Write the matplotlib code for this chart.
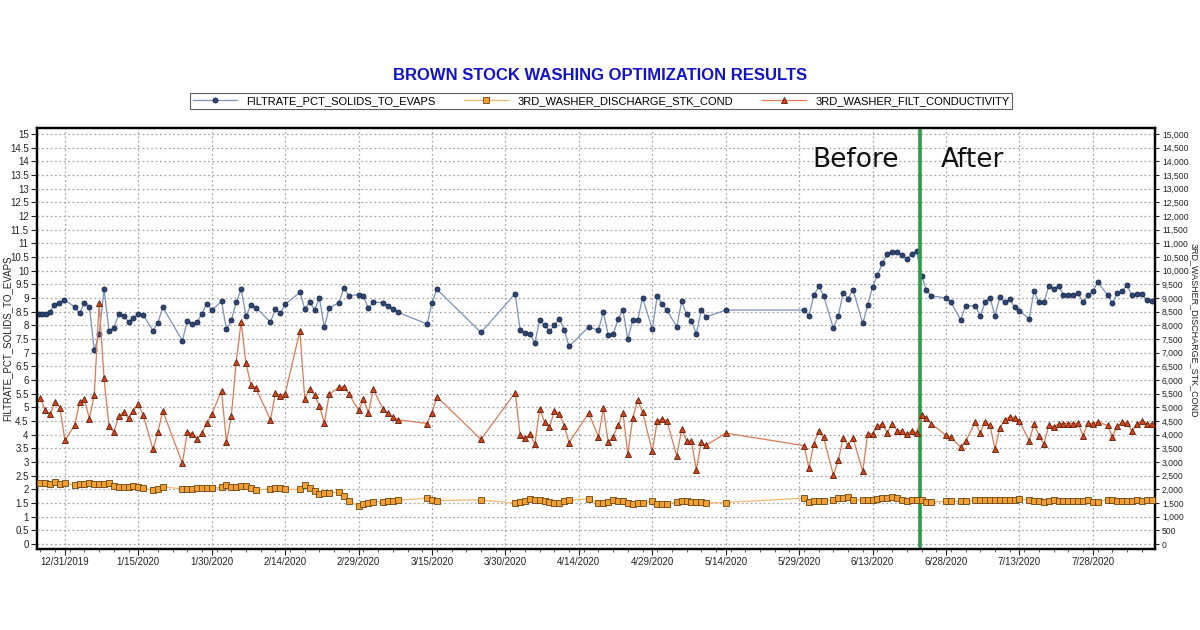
import datetime as dt
import matplotlib
matplotlib.use("Agg")
import matplotlib.pyplot as plt
import matplotlib.dates as mdates
from matplotlib.lines import Line2D
from matplotlib.ticker import MultipleLocator, FuncFormatter

plt.rcParams['font.family'] = ['Liberation Sans', 'DejaVu Sans']

BASE_DATE = dt.datetime(2019, 12, 31)

# sample days, counted from 12/31/2019
head_days = [-5, -4, -3, -2, -1, 0]
filtrate_head_days = [-5.3, -4.6, -3.9, -3.1, -2.2, -1.2, -0.1]
days = [
    2, 3, 4, 5, 6, 7, 8, 9, 10, 11, 12, 13, 14, 15, 16,
    18, 19, 20,
    24, 25, 26, 27, 28, 29, 30,
    32, 33, 34, 35, 36, 37, 38, 39,
    42, 43, 44, 45,
    48, 49, 50, 51, 52, 53, 54,
    56, 57, 58,
    60, 61, 62, 63,
    65, 66, 67, 68,
    74, 75, 76,
    85,
    92, 93, 94, 95, 96, 97, 98, 99, 100, 101, 102, 103,
    107,
    109, 110, 111, 112, 113, 114, 115, 116, 117, 118,
    120, 121, 122, 123,
    125, 126, 127, 128, 129, 130, 131,
    135,
    151, 152, 153, 154, 155,
    157, 158, 159, 160, 161,
    163, 164, 165, 166, 167, 168, 169, 170, 171, 172, 173, 174, 175, 176, 177,
    180, 181,
    183, 184,
    186, 187, 188, 189, 190, 191, 192, 193, 194, 195,
    197, 198, 199, 200, 201, 202, 203, 204, 205, 206, 207, 208, 209, 210, 211,
    213, 214, 215, 216, 217, 218, 219, 220, 221, 222,
]

# left axis (%)
filtrate_pct = [
    8.40, 8.40, 8.43, 8.48, 8.74, 8.83, 8.94,
    8.68, 8.44, 8.83, 8.68, 7.10, 7.67, 9.32, 7.81, 7.92, 8.40, 8.34, 8.14, 8.27, 8.43, 8.37,
    7.81, 8.10, 8.66,
    7.44, 8.16, 8.04, 8.11, 8.43, 8.79, 8.55,
    8.88, 7.85, 8.18, 8.84, 9.32, 8.35, 8.73, 8.65,
    8.12, 8.60, 8.44, 8.77,
    9.21, 8.61, 8.85, 8.57, 8.99, 7.93, 8.64,
    8.83, 9.37, 9.09,
    9.12, 9.07, 8.62, 8.85,
    8.83, 8.71, 8.59, 8.48,
    8.05, 8.83, 9.32,
    7.74,
    9.16, 7.82, 7.71, 7.68, 7.35, 8.20, 8.01, 7.79, 8.01, 8.24, 7.84, 7.23,
    7.94,
    7.82, 8.50, 7.65, 7.67, 8.22, 8.57, 7.49, 8.18, 8.18, 9.01,
    7.87, 9.06, 8.78, 8.55,
    7.95, 8.88, 8.40, 8.15, 7.70, 8.57, 8.31,
    8.56,
    8.56, 8.35, 9.10, 9.43, 9.09,
    7.89, 8.35, 9.20, 8.98, 9.31,
    8.07, 8.73, 9.42, 9.83, 10.28, 10.61, 10.70, 10.67, 10.56, 10.44, 10.60, 10.72, 9.82, 9.28, 9.09,
    8.99, 8.85,
    8.20, 8.71,
    8.72, 8.33, 8.85, 9.01, 8.35, 9.03, 8.84, 8.95, 8.67, 8.51,
    8.25, 9.27, 8.84, 8.84, 9.43, 9.34, 9.44, 9.12, 9.12, 9.12, 9.17, 8.85, 9.10, 9.24, 9.59,
    9.10, 8.81, 9.18, 9.27, 9.46, 9.10, 9.14, 9.15, 8.92, 8.88,
]

# right axis units
discharge_cond = [
    2220, 2220, 2180, 2260, 2210, 2230,
    2150, 2180, 2180, 2230, 2210, 2200, 2200, 2220, 2130, 2070, 2070, 2090, 2120, 2070, 2060,
    1960, 2020, 2090,
    2020, 2010, 2010, 2040, 2050, 2050, 2050,
    2070, 2150, 2070, 2090, 2130, 2120, 2040, 1980,
    2020, 2050, 2040, 2000,
    2000, 2150, 2040, 1930, 1850, 1880, 1880,
    1900, 1760, 1560,
    1410, 1450, 1500, 1550,
    1550, 1570, 1560, 1600,
    1680, 1600, 1590,
    1620,
    1490, 1550, 1590, 1660, 1630, 1610, 1560, 1540, 1520, 1520, 1560, 1600,
    1650,
    1510, 1500, 1540, 1620, 1570, 1590, 1510, 1450, 1500, 1520,
    1560, 1480, 1450, 1480,
    1540, 1570, 1590, 1550, 1540, 1540, 1500,
    1520,
    1680, 1550, 1570, 1570, 1570,
    1630, 1680, 1680, 1720, 1610,
    1610, 1610, 1630, 1640, 1680, 1700, 1720, 1700, 1630, 1560, 1610, 1630, 1610, 1540, 1540,
    1560, 1560,
    1560, 1560,
    1610, 1630, 1610, 1610, 1610, 1610, 1630, 1610, 1630, 1660,
    1610, 1590, 1590, 1540, 1590, 1610, 1560, 1560, 1560, 1560, 1560, 1560, 1610, 1540, 1540,
    1630, 1610, 1560, 1560, 1590, 1590, 1610, 1590, 1630, 1630,
]

filt_conductivity = [
    5350, 4890, 4740, 5210, 4980, 3790,
    4350, 5180, 5290, 4590, 5460, 8810, 6060, 4330, 4090, 4680, 4820, 4600, 4880, 5110, 4720,
    3460, 4100, 4870,
    2950, 4090, 4040, 3850, 4050, 4440, 4740,
    5610, 3730, 4680, 6670, 8120, 6610, 5830, 5710,
    4540, 5520, 5430, 5500,
    7790, 5320, 5660, 5450, 5060, 4430, 5480,
    5740, 5750, 5500,
    4890, 5290, 4810, 5660,
    4940, 4780, 4650, 4550,
    4410, 4810, 5390,
    3830,
    5540, 3980, 3870, 4020, 3650, 4940, 4460, 4270, 4880, 4770, 4320, 3710,
    4790,
    3930, 4960, 3720, 3920, 4350, 4810, 3290, 4600, 5260, 4840,
    3390, 4490, 4590, 4500,
    3220, 4200, 3780, 3760, 2710, 3720, 3610,
    4060,
    3600, 2780, 3670, 4150, 3900,
    2520, 3070, 3880, 3620, 3880,
    2660, 4040, 4030, 4310, 4410, 4070, 4410, 4150, 4150, 4010, 4150, 4070, 4720, 4630, 4400,
    3980, 3900,
    3550, 3760,
    4450, 4060, 4480, 4340, 3480, 4260, 4540, 4660, 4630, 4500,
    3780, 4390, 3960, 3660, 4340, 4290, 4390, 4410, 4410, 4410, 4420, 3960, 4420, 4410, 4460,
    4340, 3930, 4310, 4460, 4420, 4130, 4410, 4500, 4400, 4400,
]

date_ticks = ["12/31/2019", "1/15/2020", "1/30/2020", "2/14/2020", "2/29/2020",
              "3/15/2020", "3/30/2020", "4/14/2020", "4/29/2020", "5/14/2020",
              "5/29/2020", "6/13/2020", "6/28/2020", "7/13/2020", "7/28/2020"]
change_day = 174.65
x_range = (-5.7, 222.7)

names = ["FILTRATE_PCT_SOLIDS_TO_EVAPS", "3RD_WASHER_DISCHARGE_STK_COND",
         "3RD_WASHER_FILT_CONDUCTIVITY"]


def to_date(d):
    return BASE_DATE + dt.timedelta(days=d)


x_filtrate = [to_date(d) for d in filtrate_head_days + days]
x_other = [to_date(d) for d in head_days + days]

fig = plt.figure(figsize=(12, 6.3), dpi=100)
ax = fig.add_axes([37 / 1200, 81 / 630, 1118 / 1200, 421 / 630])
ax2 = ax.twinx()

# grid + axes
ax.set_ylim(-0.18, 15.22)
ax2.set_ylim(-180, 15220)
ax.set_xlim(to_date(x_range[0]), to_date(x_range[1]))
ax.yaxis.set_major_locator(MultipleLocator(0.5))
ax.yaxis.set_major_formatter(FuncFormatter(lambda v, p: f"{v:g}"))
ax2.yaxis.set_major_locator(MultipleLocator(500))
ax2.yaxis.set_major_formatter(FuncFormatter(lambda v, p: f"{int(v):,}"))

tick_dates = [dt.datetime.strptime(s, "%m/%d/%Y") for s in date_ticks]
ax.set_xticks(tick_dates)
ax.set_xticklabels(date_ticks)
ax.xaxis.set_minor_locator(mdates.DayLocator(interval=3))

ax.grid(True, which='major', color='#a8a8a8', linestyle=(0, (1.5, 2)), linewidth=0.9)
ax.set_axisbelow(True)

ax.tick_params(axis='both', which='major', labelsize=7, length=4, width=0.8, pad=2,
               colors='#222222')
ax.tick_params(axis='x', which='minor', length=2, width=0.6, color='#444444')
ax2.tick_params(axis='y', labelsize=6.2, length=3, width=0.8, pad=2, colors='#222222')
for a in (ax, ax2):
    for sp in a.spines.values():
        sp.set_color('black')
        sp.set_linewidth(1.6)

# series
blue_style = dict(color='#7a90bd', linewidth=0.9, marker='o', markersize=3.6,
                  markerfacecolor='#2d4677', markeredgecolor='#142443', markeredgewidth=0.6)
orange_style = dict(color='#f3b870', linewidth=0.9, marker='s', markersize=4.2,
                    markerfacecolor='#f0a030', markeredgecolor='#6b4210', markeredgewidth=0.6)
red_style = dict(color='#dc7a55', linewidth=0.9, marker='^', markersize=4.6,
                 markerfacecolor='#d2461c', markeredgecolor='#5e1a06', markeredgewidth=0.6)

ax.plot(x_filtrate, filtrate_pct, zorder=3, **blue_style)
ax2.plot(x_other, discharge_cond, zorder=3, **orange_style)
ax2.plot(x_other, filt_conductivity, zorder=3, **red_style)

ax.axvline(to_date(change_day), color='#2e9b48', linewidth=2.6, zorder=4)

ax.set_ylabel(names[0], fontsize=7, color='#222222')
ax.yaxis.set_label_coords(-0.0224, 0.5)
ax2.set_ylabel(names[1], fontsize=6.5, color='#222222', rotation=270, va='center')
ax2.yaxis.set_label_coords(1.0345, 0.52)

fig.text(812 / 1200, 1 - 167 / 630, "Before", fontsize=19, family='DejaVu Sans',
         va='baseline', ha='left', color='#111111')
fig.text(941 / 1200, 1 - 167 / 630, "After", fontsize=19, family='DejaVu Sans',
         va='baseline', ha='left', color='#111111')

fig.text(0.5, 1 - 76 / 630, "BROWN STOCK WASHING OPTIMIZATION RESULTS",
         fontsize=12, fontweight='bold', color='#1212c8', ha='center', va='center')

handles = [Line2D([], [], **blue_style), Line2D([], [], **orange_style),
           Line2D([], [], **red_style)]
leg = fig.legend(handles, names, loc='center', bbox_to_anchor=(601 / 1200, 1 - 101 / 630),
                 ncol=3, fontsize=8, frameon=True, fancybox=False, edgecolor='#333333',
                 handlelength=4.0, columnspacing=2.6, handletextpad=0.8,
                 borderpad=0.25, borderaxespad=0)
leg.get_frame().set_linewidth(0.8)

fig.savefig("out.png", dpi=100, facecolor='white')
